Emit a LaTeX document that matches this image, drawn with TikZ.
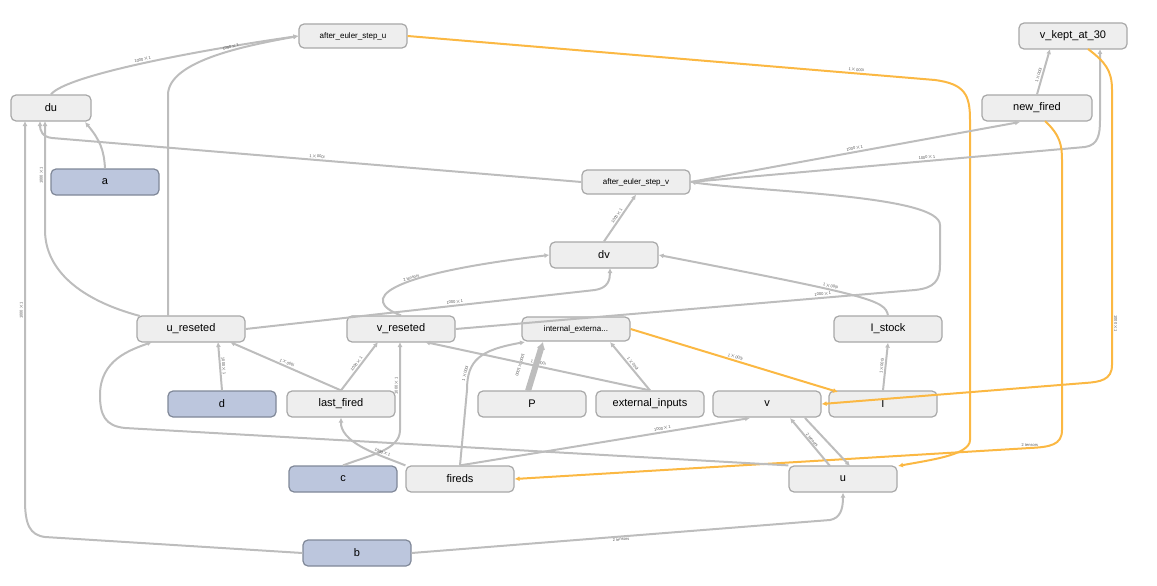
\documentclass[tikz,border=0pt]{standalone}
\usepackage{fontspec}
\setmainfont{Liberation Sans}
\usetikzlibrary{arrows.meta}
\definecolor{nfill}{HTML}{EEEEEE}
\definecolor{nline}{HTML}{A8A8A8}
\definecolor{bfill}{HTML}{BCC6DD}
\definecolor{bline}{HTML}{808898}
\definecolor{eg}{HTML}{BDBDBD}
\definecolor{eo}{HTML}{FBB843}
\definecolor{lab}{HTML}{555555}
\begin{document}
\begin{tikzpicture}[x=1pt,y=-1pt,
 n/.style={draw=nline,fill=nfill,rounded corners=5pt,minimum width=#1,minimum height=26pt,line width=1.2pt,font=\fontsize{11}{12}\selectfont,inner sep=1pt},
 n/.default=108pt,
 s/.style={n=108pt,minimum height=24pt,font=\fontsize{8}{9}\selectfont},
 bn/.style={n=108pt,draw=bline,fill=bfill},
 e/.style={draw=eg,line width=2pt,-{Latex[length=5pt,width=5pt]}},
 o/.style={e,draw=eo},
 l/.style={font=\fontsize{4}{4}\selectfont,text=lab,inner sep=0.5pt,sloped}]
\useasboundingbox (0,0) rectangle (1157,586);
\node[s] (aeu) at (353,36) {after\_euler\_step\_u};
\node[n] (vk) at (1073,36) {v\_kept\_at\_30};
\node[n=80pt] (du) at (51,108) {du};
\node[n=110pt] (nf) at (1037,108) {new\_fired};
\node[bn] (a) at (105,182) {a};
\node[s] (aev) at (636,182) {after\_euler\_step\_v};
\node[n] (dv) at (604,255) {dv};
\node[n] (ur) at (191,329) {u\_reseted};
\node[n] (vr) at (401,329) {v\_reseted};
\node[s] (ie) at (576,329) {internal\_externa...};
\node[n] (is) at (888,329) {I\_stock};
\node[bn] (d) at (222,404) {d};
\node[n] (lf) at (341,404) {last\_fired};
\node[n] (P) at (532,404) {P};
\node[n] (ei) at (650,404) {external\_inputs};
\node[n] (v) at (767,404) {v};
\node[n] (I) at (883,404) {I};
\node[bn] (c) at (343,479) {c};
\node[n] (fi) at (460,479) {fireds};
\node[n] (u) at (843,479) {u};
\node[bn] (b) at (357,553) {b};
% edges
\draw[e] (du.north) .. controls (66,75) and (200,50) .. node[l,pos=.5,above]{1000$\times$1} (aeu.west);
\draw[e] (168,316) -- (168,95) .. controls (168,60) and (250,45) .. node[l,pos=.6,above]{1000$\times$1} (aeu.west);
\draw[o] (aeu.east) -- node[l,pos=.85,above]{1$\times$000i} (935,80) .. controls (965,84) and (970,95) .. (970,120) -- (970,440) .. controls (970,455) and (930,460) .. (898,466);
\draw[e] (a.north) .. controls (104,150) and (100,140) .. (85,122);
\draw[e] (aev.west) -- node[l,pos=.5,above]{1$\times$000i} (52,138) .. controls (42,137) and (40,130) .. (40,121);
\draw[e] (140,316) .. controls (80,300) and (45,270) .. (45,230) -- node[l,pos=.5,above]{1000$\times$1} (45,121);
\draw[e] (b.west) -- (45,537) .. controls (30,535) and (25,525) .. (25,500) -- node[l,pos=.5,above]{1000$\times$1} (25,121);
\draw[e] (b.east) -- node[l,pos=.5,below]{2 tensors} (830,520) .. controls (840,518) and (843,510) .. (u.south);
\draw[e] (nf.north) -- node[l,pos=.4,above]{1$\times$000i} (1050,49);
\draw[e] (aev.east) -- node[l,pos=.6,above]{1000$\times$1} (1085,147) .. controls (1098,145) and (1100,135) .. (1100,120) -- (1100,49);
\draw[e] (aev.east) -- node[l,pos=.5,above]{1000$\times$1} (1020,122);
\draw[o] (1045,121) .. controls (1060,135) and (1062,145) .. (1062,160) -- (1062,430) .. controls (1062,445) and (1050,447) .. node[l,pos=1,above]{2 tensors} (1030,448) -- (fi.east);
\draw[o] (1088,49) .. controls (1105,62) and (1112,70) .. (1112,90) -- node[l,pos=.85,above]{1000$\times$1} (1112,365) .. controls (1112,380) and (1100,382) .. (1085,383) -- (v.east);
\draw[o] (ie.east) -- node[l,pos=.5,above]{1$\times$000i} (838,392);
\draw[e] (dv.north) -- node[l,pos=.5,above]{1000$\times$1} (aev.south);
\draw[e] (vr.east) -- node[l,pos=.8,above]{1000$\times$1} (915,290) .. controls (935,288) and (940,280) .. (940,265) -- (940,225) .. controls (940,195) and (760,192) .. (aev.east);
\draw[e] (ur.east) -- node[l,pos=.6,above]{1000$\times$1} (595,290) .. controls (608,288) and (610,280) .. (610,268);
\draw[e] (vr.north) .. controls (360,300) and (380,275) .. node[l,pos=.6,above]{2 tensors} (dv.west);
\draw[e] (is.north) .. controls (885,300) and (870,296) .. node[l,pos=.6,above]{1$\times$000i} (dv.east);
\draw[e] (I.north) -- node[l,pos=.5,above]{1$\times$000i} (is.south);
\draw[e] (d.north) -- node[l,pos=.5,above]{1000$\times$1} (218,342);
\draw[e] (lf.north) -- node[l,pos=.5,above]{1$\times$000i} (230,342);
\draw[e] (lf.north) -- node[l,pos=.5,above]{1000$\times$1} (378,342);
\draw[e] (c.north) .. controls (370,455) and (400,450) .. (400,430) -- node[l,pos=.5,above]{1000$\times$1} (400,342);
\draw[e] (fi.north west) .. controls (380,455) and (345,445) .. node[l,pos=.3,above]{1000$\times$1} (341,425) -- (lf.south);
\draw[e] (u.north west) -- (125,428) .. controls (105,426) and (100,415) .. (100,395) .. controls (100,360) and (130,350) .. (152,342);
\draw[e] (ei.north) -- node[l,pos=.5,above]{1$\times$000i} (425,342);
\draw[e] (ei.north) -- node[l,pos=.5,above]{1$\times$000i} (610,342);
\draw[e,line width=6pt,-{Latex[length=7pt,width=9pt]}] (528,391) -- (543,342);
\node[l,rotate=-107] (pl) at (520,365) {1000$\times$1000};
\draw[e] (fi.north) -- (467,390) .. controls (467,360) and (480,350) .. node[l,pos=.2,above]{1$\times$000i} (525,342);
\draw[e] (fi.north) -- node[l,pos=.7,above]{1000$\times$1} (750,418);
\draw[e] (830,466) -- node[l,pos=.5,above]{2 tensors} (790,418);
\draw[e] (805,418) -- (850,466);
\end{tikzpicture}
\end{document}
